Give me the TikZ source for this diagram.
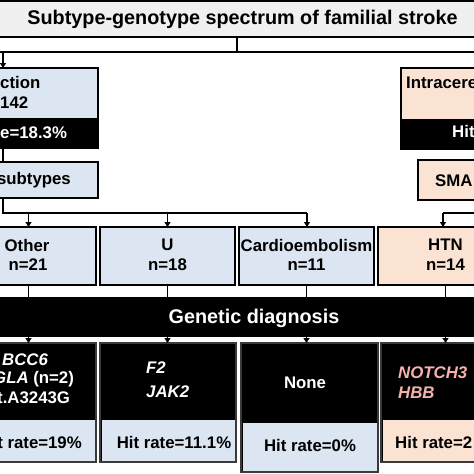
\documentclass[tikz,border=0pt]{standalone}
\usepackage{fontspec}
\setmainfont{Liberation Sans}
\usetikzlibrary{arrows.meta}
\definecolor{boxblue}{HTML}{DCE6F2}
\definecolor{boxpeach}{HTML}{FBE3D3}
\definecolor{titlegray}{HTML}{F0F0F0}
\definecolor{genepink}{HTML}{F5B3AE}
\definecolor{lowborder}{HTML}{3A3A3A}
\tikzset{
  conn/.style={line width=1.8pt, draw=black},
  arr/.style={conn, -{Triangle[width=6pt,length=5pt]}},
  box/.style={draw=black, line width=1.8pt, inner sep=0pt, outer sep=0pt, anchor=north west},
  band/.style={fill=black, inner sep=0pt, outer sep=0pt, anchor=north west},
  lowbox/.style={draw=lowborder, fill=black, line width=1.6pt, inner sep=0pt, outer sep=0pt, anchor=north west},
  lowpart/.style={inner sep=0pt, outer sep=0pt, anchor=north west},
  txt/.style={inner sep=0pt, font=\fontsize{16.8}{19}\selectfont\bfseries},
  bigtxt/.style={inner sep=0pt, font=\fontsize{19.8}{22}\selectfont\bfseries},
}
\begin{document}
\begin{tikzpicture}[x=1pt,y=-1pt]
\useasboundingbox (0,0) rectangle (474,474);
\clip (0,0) rectangle (474,474);
\fill[white] (0,0) rectangle (474,474);

% title
\node[box, fill=titlegray, minimum width=485pt, minimum height=36pt] (title) at (-5,1) {};
\node[bigtxt] (titletxt) at (242.5,19) {Subtype-genotype spectrum of familial stroke};

% top split
\coordinate (split) at (237,52);
\coordinate (topL) at (-5,52);
\coordinate (topR) at (480,52);
\coordinate (infx) at (3,52);
\draw[conn] (title.south -| split) -- (split);
\draw[conn] (topL) -- (topR);

% infarction box
\node[box, fill=boxblue, minimum width=158pt, minimum height=80pt] (inf) at (-60,68) {};
\node[band, minimum width=158pt, minimum height=30pt] (infband) at (-60,118) {};
\draw[line width=1.8pt] (inf.north west) rectangle (inf.south east);
\draw[arr] (infx) -- (infx |- inf.north);
\node[txt, anchor=west] (inft1) at (0,82) {ction};
\node[txt, anchor=west] (inft2) at (0,103) {142};
\node[txt, anchor=west, text=white] (inft3) at (0,133) {e=18.3\%};

% subtypes box
\node[box, fill=boxblue, minimum width=158pt, minimum height=36pt] (sub) at (-60,162) {};
\node[txt, anchor=east] (subt) at (71,180) {subtypes};
\draw[conn] (infx |- inf.south) -- (infx |- sub.north);

% intracerebral box
\node[box, fill=boxpeach, minimum width=140pt, minimum height=81pt] (ich) at (401,68) {};
\node[band, minimum width=140pt, minimum height=30pt] (ichband) at (401,119) {};
\draw[line width=1.8pt] (ich.north west) rectangle (ich.south east);
\node[txt, anchor=west] (icht1) at (406,83) {Intracere};
\node[txt, anchor=west, text=white] (icht2) at (452,131) {Hit};

% SMA box
\node[box, fill=boxpeach, minimum width=130pt, minimum height=40pt] (sma) at (418,160) {};
\node[txt, anchor=west] (smat) at (435,181) {SMA};

% middle boxes
\node[box, fill=boxblue, minimum width=135pt, minimum height=58pt] (other) at (-39,227) {};
\node[box, fill=boxblue, minimum width=135pt, minimum height=58pt] (ubox) at (100,227) {};
\node[box, fill=boxblue, minimum width=135pt, minimum height=58pt] (cardio) at (239,227) {};
\node[box, fill=boxpeach, minimum width=135pt, minimum height=58pt] (htn) at (378,227) {};
\node[txt] (othert1) at (27,245) {Other};
\node[txt] (othert2) at (28,265) {n=21};
\node[txt] (ut1) at (167.5,245) {U};
\node[txt] (ut2) at (167.5,265) {n=18};
\node[txt] (ct1) at (306.5,245) {Cardioembolism};
\node[txt] (ct2) at (306.5,265) {n=11};
\node[txt] (ht1) at (445.5,245) {HTN};
\node[txt] (ht2) at (445.5,265) {n=14};

% branch lines to middle boxes
\coordinate (midL) at (3,213);
\coordinate (midR) at (307,213);
\draw[conn] (infx |- sub.south) -- (midL) -- (midR);
\draw[arr] (midL -| other.north) -- (other.north);
\draw[arr] (midL -| ubox.north) -- (ubox.north);
\draw[arr] (midR) -- (midR |- cardio.north);
\coordinate (htnL) at (443,213);
\coordinate (htnR) at (480,213);
\draw[conn] (htnL) -- (htnR);
\draw[arr] (htnL) -- (htnL |- htn.north);

% genetic diagnosis bar
\node[band, minimum width=485pt, minimum height=40pt] (gen) at (-5,297) {};
\node[bigtxt, text=white] (gent) at (254,318) {Genetic diagnosis};
\draw[conn] (other.south) -- (other.south |- gen.north);
\draw[conn] (ubox.south) -- (ubox.south |- gen.north);
\draw[conn] (cardio.south) -- (cardio.south |- gen.north);
\draw[conn] (htn.south) -- (htn.south |- gen.north);

% lower boxes
\node[lowbox, minimum width=136pt, minimum height=119pt] (l1) at (-40,343) {};
\node[lowbox, minimum width=136pt, minimum height=119pt] (l2) at (100,343) {};
\node[lowbox, minimum width=137pt, minimum height=129pt] (l3) at (241,343) {};
\node[lowbox, minimum width=139pt, minimum height=119pt] (l4) at (381,343) {};
\node[lowpart, fill=boxblue, minimum width=133pt, minimum height=41pt] (l1b) at (-38.5,419.5) {};
\node[lowpart, fill=boxblue, minimum width=133pt, minimum height=41pt] (l2b) at (101.5,419.5) {};
\node[lowpart, fill=boxblue, minimum width=134pt, minimum height=48pt] (l3b) at (242.5,422.5) {};
\node[lowpart, fill=boxpeach, minimum width=136pt, minimum height=41pt] (l4b) at (382.5,419.5) {};

\draw[arr] (other.south |- gen.south) -- (other.south |- l1.north);
\draw[arr] (ubox.south |- gen.south) -- (ubox.south |- l2.north);
\draw[arr] (cardio.south |- gen.south) -- (cardio.south |- l3.north);
\draw[arr] (htn.south |- gen.south) -- (htn.south |- l4.north);

% lower box texts
\node[txt, anchor=west, text=white] (g1a) at (2,360) {\itshape BCC6};
\node[txt, anchor=west, text=white] (g1b) at (-7,379) {{\itshape GLA} (n=2)};
\node[txt, anchor=west, text=white] (g1c) at (-3,398) {t.A3243G};
\node[txt, anchor=east] (h1) at (82,443) {t rate=19\%};

\node[txt, anchor=west, text=white] (g2a) at (146,368) {\itshape F2};
\node[txt, anchor=west, text=white] (g2b) at (146,392) {\itshape JAK2};
\node[txt] (h2) at (174,442) {Hit rate=11.1\%};

\node[txt, text=white] (g3a) at (305,383) {None};
\node[txt] (h3) at (310,445) {Hit rate=0\%};

\node[txt, anchor=west, text=genepink] (g4a) at (398,373) {\itshape NOTCH3};
\node[txt, anchor=west, text=genepink] (g4b) at (398,393) {\itshape HBB};
\node[txt, anchor=west] (h4) at (395,442) {Hit rate=2};
\end{tikzpicture}
\end{document}
